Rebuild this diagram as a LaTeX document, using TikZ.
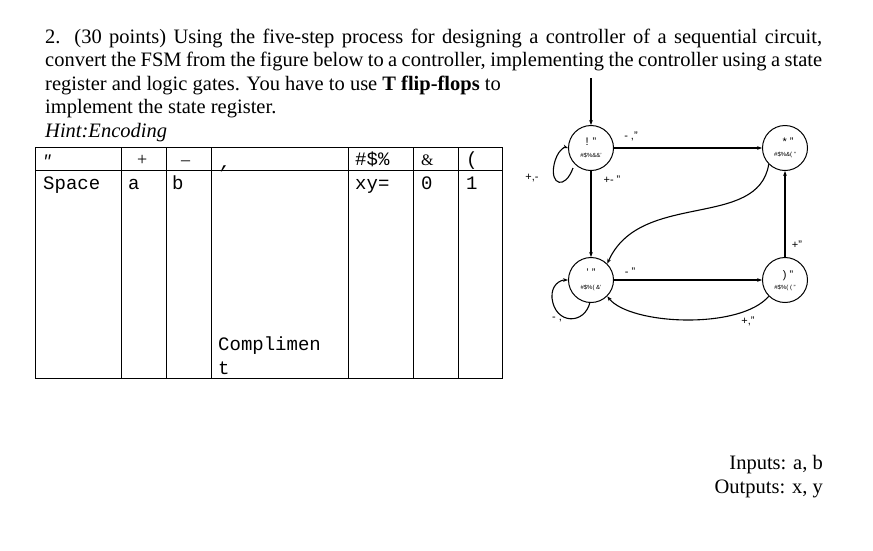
\documentclass[tikz,border=0pt]{standalone}
\usepackage{fontspec}
\setmainfont{Liberation Serif}
\setmonofont{Liberation Mono}
\setsansfont{Liberation Sans}
\usetikzlibrary{arrows.meta}
\begin{document}
\begin{tikzpicture}[x=1pt,y=-1pt,
  line/.style={anchor=base west,inner sep=0,font=\fontsize{20.5}{24}\selectfont},
  cell/.style={anchor=base west,inner sep=0,font=\ttfamily\fontsize{19}{22}\selectfont},
  st/.style={circle,draw,line width=1pt,minimum size=45pt,inner sep=0},
  tiny/.style={font=\sffamily\fontsize{6}{6}\selectfont,inner sep=0},
  big/.style={font=\sffamily\fontsize{11}{11}\selectfont,inner sep=0},
  lab/.style={font=\sffamily\fontsize{11}{11}\selectfont,inner sep=0},
  edge/.style={draw,line width=1.1pt,-{Stealth[length=5pt]}}]
\useasboundingbox (0,0) rectangle (873,550);
\node[line] (l1) at (45,43) {\makebox[777pt][s]{2. (30 points) Using the five-step process for designing a controller of a sequential circuit,}};
\node[line] (l2) at (45,66) {\makebox[777pt][s]{convert the FSM from the figure below to a controller, implementing the controller using a state}};
\node[line] (l3) at (45,90) {register and logic gates. You have to use \textbf{T flip-flops} to};
\node[line] (l4) at (45,113) {implement the state register.};
\node[line,font=\itshape\fontsize{20.5}{24}\selectfont] (hint) at (45,137) {Hint:Encoding};
% table
\draw[line width=0.7pt] (35,147) rectangle (502,378);
\draw[line width=0.7pt] (35,170)--(502,170);
\foreach \x in {121,166,211,348,413,458} \draw[line width=0.7pt] (\x,147)--(\x,378);
\node[cell] (h1) at (42,166) {\fontsize{16}{16}\selectfont\textit{\char"2033}};
\node[cell,font=\fontsize{18}{18}\selectfont] (h2) at (137,165) {+};
\node[cell,font=\fontsize{18}{18}\selectfont] (h3) at (181,165) {–};
\node[cell] (h4) at (220,168) {\textit{,}};
\node[cell] (h5) at (355,165) {\#\$\%};
\node[cell,font=\fontsize{16}{16}\selectfont] (h6) at (421,165) {\&};
\node[cell] (h7) at (466,165) {(};
\node[cell] (c1) at (43,189) {Space};
\node[cell] (c2) at (128,189) {a};
\node[cell] (c3) at (172,189) {b};
\node[cell] (c5) at (355,189) {xy=};
\node[cell] (c6) at (421,189) {0};
\node[cell] (c7) at (466,189) {1};
\node[cell] (cm1) at (218,350) {Complimen};
\node[cell] (cm2) at (218,374) {t};
% FSM
\node[st] (s0) at (591,148) {};
\node[st] (s1) at (785,148) {};
\node[st] (s2) at (591,280) {};
\node[st] (s3) at (785,280) {};
\node[big] at (591,142) {! "};
\node[tiny] at (591,155) {\#\$\%\&\&'};
\node[big] at (788,142) {* "};
\node[tiny] at (785,155) {\#\$\%\&( "};
\node[big] at (591,273) {' "};
\node[tiny] at (591,288) {\#\$\%( \&'};
\node[big] at (788,276) {) "};
\node[tiny] at (785,288) {\#\$\%( ( "};
\coordinate (start) at (591,78);
\coordinate (l0) at (573,168);
\coordinate (l2) at (590,302);
\draw[edge] (start)--(s0);
\draw[edge] (s0)--(s1);
\draw[edge] (s0)--(s2);
\draw[edge] (s2)--(s3);
\draw[edge] (s3)--(s1);
\draw[edge] (s1.south west) .. controls (758,230) and (640,190) .. (s2.north east);
\draw[edge] (s3.south west) .. controls (740,330) and (630,325) .. (s2.south east);
\draw[edge] (l0) .. controls (565,190) and (550,185) .. (554,165) .. controls (557,150) and (565,147) .. (s0.west);
\draw[edge] (l2) .. controls (585,325) and (555,325) .. (552,298) .. controls (551,285) and (560,280) .. (s2.west);
\node[lab] at (631,136) {- ,"};
\node[lab] at (532,178) {+,-};
\node[lab] at (612,180) {+- "};
\node[lab] at (630,272) {- "};
\node[lab] at (797,245) {+"};
\node[lab] at (748,321) {+,"};
\node[lab] at (557,320) {- ,};
\node[line,anchor=base east] (in) at (823,469) {Inputs: a, b};
\node[line,anchor=base east] (out) at (823,493) {Outputs: x, y};
\end{tikzpicture}
\end{document}
